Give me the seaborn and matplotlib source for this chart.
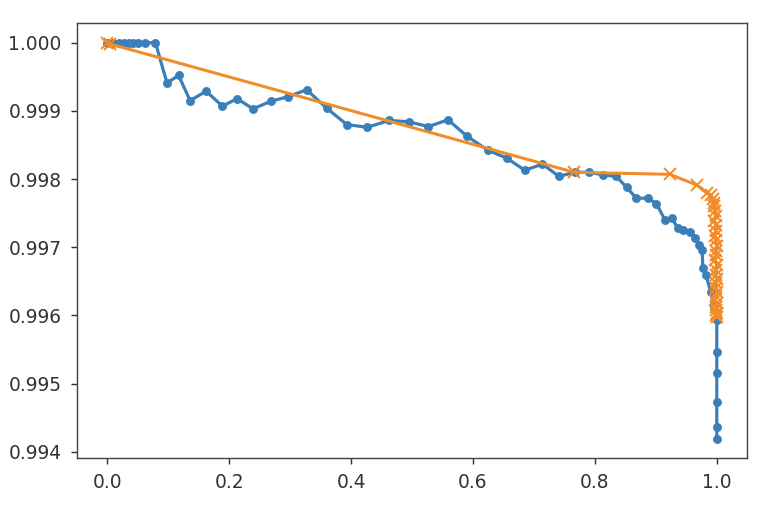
import matplotlib
matplotlib.use("Agg")
import matplotlib.pyplot as plt
import numpy as np
import pandas as pd
import seaborn as sb

# blue curve (dots)
blue_x = [0.0, 0.010, 0.019, 0.027, 0.035, 0.043, 0.051, 0.062, 0.079,
          0.098, 0.117, 0.136, 0.162, 0.189, 0.213, 0.239, 0.268, 0.297,
          0.327, 0.360, 0.393, 0.426, 0.463, 0.495, 0.527, 0.559, 0.590,
          0.625, 0.655, 0.685, 0.714, 0.741, 0.767, 0.791, 0.814, 0.835,
          0.852, 0.868, 0.887, 0.901, 0.915, 0.926, 0.936, 0.945, 0.956,
          0.964, 0.971, 0.976, 0.977, 0.982, 0.990, 0.995,
          1.0, 1.0, 1.0, 1.0, 1.0, 1.0]
blue_y = [1.0, 1.0, 1.0, 1.0, 1.0, 1.0, 1.0, 1.0, 1.0,
          0.99941, 0.99952, 0.99915, 0.99929, 0.99907, 0.99918, 0.99903, 0.99914, 0.99921,
          0.99931, 0.99904, 0.99880, 0.99876, 0.99886, 0.99884, 0.99877, 0.99887, 0.99863,
          0.99842, 0.99831, 0.99813, 0.99822, 0.99804, 0.99810, 0.99810, 0.99806, 0.99804,
          0.99788, 0.99772, 0.99772, 0.99764, 0.99740, 0.99743, 0.99728, 0.99726, 0.99723,
          0.99714, 0.99704, 0.99696, 0.99670, 0.99660, 0.99635, 0.99612,
          0.99594, 0.99546, 0.99515, 0.99473, 0.99437, 0.99419]

# orange curve (crosses)
orange_x = [0.0, 0.005, 0.766, 0.923, 0.968, 0.984,
            0.990, 0.993, 0.995, 0.996, 0.997, 0.998, 0.996, 0.999, 0.998, 0.997,
            0.999, 1.0, 0.998, 0.999, 0.997, 1.0, 0.999, 0.998, 1.0, 0.999,
            0.998, 1.0, 0.999, 0.997, 1.0, 0.999, 0.998, 1.0, 0.999, 1.0]
orange_y = [1.0, 0.99998, 0.99810, 0.99807, 0.99791, 0.99779,
            0.99776, 0.99771, 0.99765, 0.99760, 0.99753, 0.99746, 0.99739, 0.99732, 0.99724, 0.99717,
            0.99710, 0.99702, 0.99695, 0.99688, 0.99681, 0.99674, 0.99667, 0.99660, 0.99653, 0.99647,
            0.99641, 0.99635, 0.99629, 0.99623, 0.99618, 0.99613, 0.99608, 0.99604, 0.99600, 0.99598]

blue = pd.DataFrame({"x": blue_x, "y": blue_y})
orange = pd.DataFrame({"x": orange_x, "y": orange_y})

fig = plt.figure(figsize=(6, 510 / 128), dpi=128)
ax = fig.add_axes([0.100, 0.102, 0.873, 0.853])

sb.lineplot(x="x", y="y", data=blue, sort=False, estimator=None, ax=ax,
            color="#3a7fb8", marker=".", markersize=8, mec="#3a7fb8", mew=1, lw=1.8)
sb.lineplot(x="x", y="y", data=orange, sort=False, estimator=None, ax=ax,
            color="#f28c28", marker="x", markersize=7, mec="#f28c28", mew=1.1, lw=1.7)

ax.set_xlim(-0.05, 1.05)
ax.set_ylim(0.99391, 1.00029)
ax.set_xticks([0.0, 0.2, 0.4, 0.6, 0.8, 1.0])
ax.set_yticks([0.994, 0.995, 0.996, 0.997, 0.998, 0.999, 1.000])
ax.set_yticklabels(["0.994", "0.995", "0.996", "0.997", "0.998", "0.999", "1.000"])
ax.tick_params(labelsize=10.5, colors="#333333", labelcolor="#333333", pad=5)
for s in ax.spines.values():
    s.set_color("#444444")
ax.set_xlabel("")
ax.set_ylabel("")

fig.savefig("out.png", dpi=128)
